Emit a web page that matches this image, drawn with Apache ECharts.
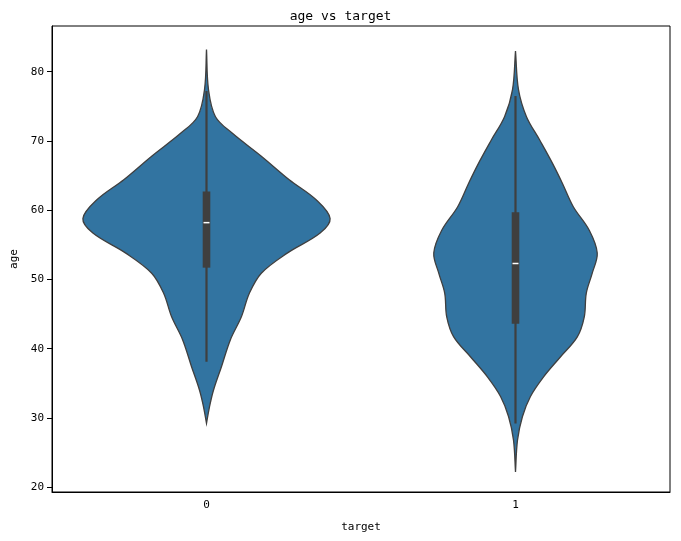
<!DOCTYPE html>
<html><head><meta charset="utf-8">
<script src="https://cdn.jsdelivr.net/npm/echarts@6/dist/echarts.min.js"></script>
<style>html,body{margin:0;padding:0;background:#fff}#c{width:681px;height:541px}</style>
</head><body><div id="c"></div>
<script>
const categories = ['0', '1'];
const ages0 = [83.2, 77.4, 73.5, 71.1, 67.8, 64.4, 61.5, 58.8, 56.7, 53.8, 50.9, 48.0, 44.6, 41.3, 37.4, 34.0, 31.6, 29.2];
const dens0 = [0, 2, 9, 26, 55, 83, 110, 124, 114, 81, 55, 43, 35, 24, 15, 7, 3, 0];
const ages1 = [83.0, 77.4, 73.5, 70.2, 66.8, 63.9, 60.5, 57.1, 53.8, 50.9, 48.0, 44.6, 41.7, 38.8, 35.9, 33.1, 30.2, 26.8, 22.2];
const dens1 = [0, 3, 11, 24, 37, 47, 58, 74, 82, 77, 71, 69, 62, 45, 28, 15, 7, 2, 0];
// [whiskerLow, q1, median, q3, whiskerHigh]
const box0 = [38.1, 51.7, 58.2, 62.7, 77.2];
const box1 = [29.2, 43.6, 52.3, 59.7, 76.5];
const yTicks = [20, 30, 40, 50, 60, 70, 80];

const violins = [{ages: ages0, dens: dens0, box: box0}, {ages: ages1, dens: dens1, box: box1}];
const maxD = Math.max(...dens0, ...dens1);

const chart = echarts.init(document.getElementById('c'));
chart.setOption({
  animation: false,
  title: {text: 'age vs target', left: 'center', top: 5, textStyle: {fontFamily: 'DejaVu Sans Mono', fontSize: 13, fontWeight: 'normal', color: '#000'}},
  grid: {left: 52, right: 11, top: 26, bottom: 49, show: true, borderColor: '#000', borderWidth: 1},
  xAxis: {type: 'category', data: categories, name: 'target', nameLocation: 'middle', nameGap: 30,
    nameTextStyle: {fontFamily: 'DejaVu Sans Mono', fontSize: 11, color: '#000'},
    axisLine: {lineStyle: {color: '#000'}}, axisTick: {alignWithLabel: true, lineStyle: {color: '#000'}},
    axisLabel: {color: '#000', fontFamily: 'DejaVu Sans Mono', fontSize: 11}},
  yAxis: {type: 'value', min: 19.3, max: 86.6, name: 'age', nameLocation: 'middle', nameGap: 32,
    nameTextStyle: {fontFamily: 'DejaVu Sans Mono', fontSize: 11, color: '#000'},
    axisLine: {show: true, lineStyle: {color: '#000'}}, splitLine: {show: false},
    axisTick: {show: true, customValues: yTicks, lineStyle: {color: '#000'}},
    axisLabel: {customValues: yTicks, color: '#000', fontFamily: 'DejaVu Sans Mono', fontSize: 11}},
  series: [{
    type: 'custom',
    data: [0, 1],
    renderItem: function (params, api) {
      const i = api.value(0);
      const v = violins[i];
      const band = api.size([1, 0])[0];
      const scale = band * 0.4 / maxD;
      const right = [], left = [];
      for (let k = 0; k < v.ages.length; k++) {
        const p = api.coord([i, v.ages[k]]);
        right.push([p[0] + v.dens[k] * scale, p[1]]);
        left.unshift([p[0] - v.dens[k] * scale, p[1]]);
      }
      const pts = right.concat(left);
      const b = v.box.map(a => api.coord([i, a]));
      const cx = b[0][0];
      return {type: 'group', children: [
        {type: 'polygon', shape: {points: pts, smooth: 0.35}, style: {fill: '#3274a1', stroke: '#3f3f3f', lineWidth: 1.3}},
        {type: 'line', shape: {x1: cx, y1: b[0][1], x2: cx, y2: b[4][1]}, style: {stroke: '#3f3f3f', lineWidth: 2.2}},
        {type: 'rect', shape: {x: cx - 3.8, y: b[3][1], width: 7.6, height: b[1][1] - b[3][1]}, style: {fill: '#3f3f3f'}},
        {type: 'line', shape: {x1: cx - 3, y1: b[2][1], x2: cx + 3, y2: b[2][1]}, style: {stroke: '#fff', lineWidth: 1.5}}
      ]};
    }
  }]
});
</script></body></html>
